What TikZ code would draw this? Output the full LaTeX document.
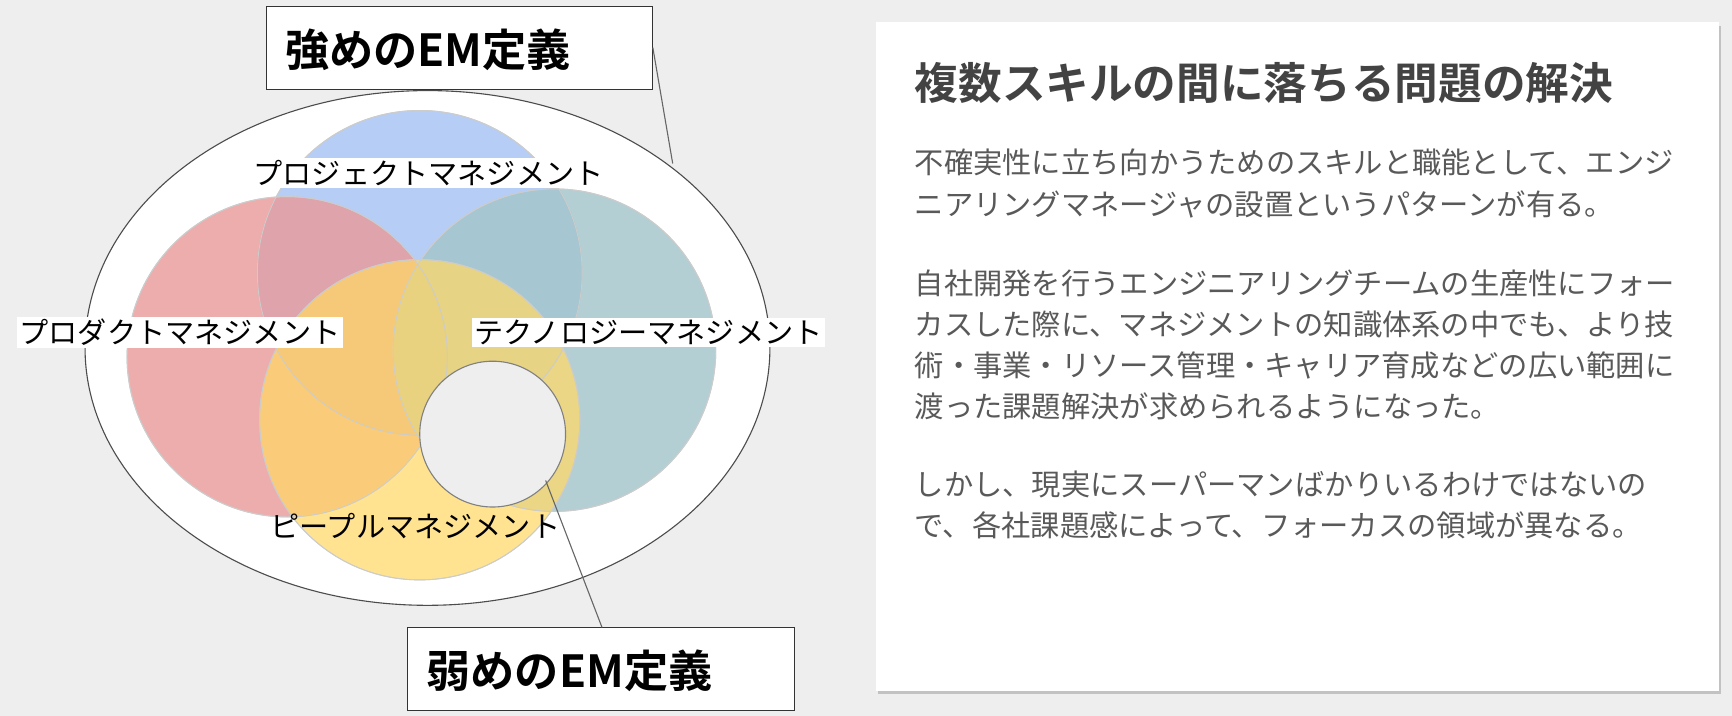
\documentclass[tikz,border=0pt]{standalone}
\usepackage{fontspec}
\newfontfamily\jp{Noto Sans CJK JP}
\newfontfamily\jpb{Noto Sans CJK JP Bold}
\usetikzlibrary{shadows,shapes.geometric}
\definecolor{bg}{HTML}{EEEEEE}
\definecolor{cblue}{HTML}{A4C2F4}
\definecolor{cred}{HTML}{EA9999}
\definecolor{cteal}{HTML}{A2C4C9}
\definecolor{cyel}{HTML}{FFD966}
\definecolor{tgray}{HTML}{595959}
\definecolor{hgray}{HTML}{434343}
\tikzset{
  venn/.style={draw=black!20,line width=0.8pt,fill opacity=0.8},
  lab/.style={fill=white,inner sep=2pt,font=\jp\fontsize{26.4}{28}\selectfont},
  emb/.style={draw=black!80,fill=white,line width=1pt,minimum width=350pt,minimum height=75pt},
  embt/.style={anchor=west,inner sep=0,font=\jpb\fontsize{40}{44}\selectfont},
  body/.style={anchor=west,inner sep=0,text=tgray,font=\jp\fontsize{26.5}{28}\selectfont},
}
\begin{document}
\begin{tikzpicture}[x=1pt,y=-1pt]
\fill[bg] (0,0) rectangle (1568,648);
\useasboundingbox (0,0) rectangle (1568,648);
% ellipse
\node[ellipse,draw=black!70,fill=white,line width=1pt,minimum width=620pt,minimum height=466pt,inner sep=0] (ell) at (387,315) {};
\fill[venn,fill=cblue] (380,247) circle (147);
\fill[venn,fill=cred] (260,323) circle (145);
\fill[venn,fill=cteal] (502,317) circle (146);
\fill[venn,fill=cyel,fill opacity=0.72] (380,380) circle (145);
\draw[black!20,line width=0.8pt] (380,247) circle (147) (260,323) circle (145) (502,317) circle (146) (380,380) circle (145);
\node[circle,draw=black!50,fill=bg,line width=1pt,minimum size=132pt,inner sep=0] (hole) at (446,393) {};
\node[lab] (pj) at (388,157) {プロジェクトマネジメント};
\node[lab] (pd) at (163,301) {プロダクトマネジメント};
\node[lab] (tc) at (587,301) {テクノロジーマネジメント};
\node[lab,fill=none] (pp) at (376,476) {ピープルマネジメント};
% boxes
\node[emb] (strong) at (416,43.5) {};
\node[embt] (strongt) at (258,45) {強めのEM定義};
\node[emb] (weak) at (544,605.5) {};
\node[embt] (weakt) at (386,607) {弱めのEM定義};
\coordinate (sa) at (591,43);
\coordinate (sb) at (609,148);
\draw[black!60,line width=1pt] (sa) -- (sb);
\coordinate (wa) at (545,568);
\coordinate (wb) at (494,435);
\draw[black!60,line width=1pt] (wa) -- (wb);
% panel
\node[draw=none,fill=white,drop shadow={shadow xshift=2pt,shadow yshift=-3pt,opacity=0.4},minimum width=763pt,minimum height=605pt,anchor=north west,inner sep=0] (panel) at (793,20) {};
\node[anchor=west,inner sep=0,text=hgray,font=\jpb\fontsize{39.5}{42}\selectfont] (title) at (828,75) {複数スキルの間に落ちる問題の解決};
\node[body] (l1) at (828,147) {不確実性に立ち向かうためのスキルと職能として、エンジ};
\node[body] (l2) at (828,185) {ニアリングマネージャの設置というパターンが有る。};
\node[body] (l3) at (828,257) {自社開発を行うエンジニアリングチームの生産性にフォー};
\node[body] (l4) at (828,294) {カスした際に、マネジメントの知識体系の中でも、より技};
\node[body] (l5) at (828,331) {術・事業・リソース管理・キャリア育成などの広い範囲に};
\node[body] (l6) at (828,368) {渡った課題解決が求められるようになった。};
\node[body] (l7) at (828,439) {しかし、現実にスーパーマンばかりいるわけではないの};
\node[body] (l8) at (828,476) {で、各社課題感によって、フォーカスの領域が異なる。};
\end{tikzpicture}
\end{document}
